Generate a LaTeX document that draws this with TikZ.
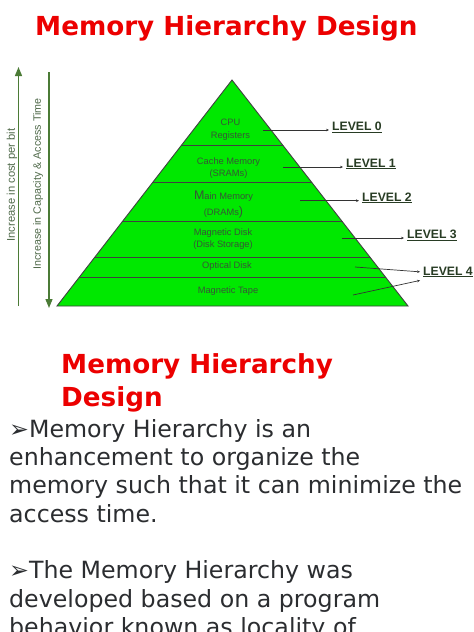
\documentclass[tikz,border=0pt]{standalone}
\usepackage{fontspec}
\setmainfont{DejaVu Sans}
\newfontfamily\arialf{Liberation Sans}
\usetikzlibrary{arrows.meta,calc}
\definecolor{pyrgreen}{RGB}{0,232,0}
\definecolor{arrgreen}{RGB}{75,123,54}
\definecolor{rottext}{RGB}{80,106,74}
\definecolor{pyrtext}{RGB}{55,85,55}
\definecolor{lvltext}{RGB}{40,60,36}
\definecolor{titlered}{RGB}{236,0,0}
\definecolor{bodytext}{RGB}{43,45,48}
\tikzset{
  pyrlabel/.style={font=\arialf\fontsize{9.3}{12.5}\selectfont, text=pyrtext, align=center, inner sep=0pt},
  lvllabel/.style={font=\arialf\bfseries\fontsize{12.2}{14}\selectfont, text=lvltext, anchor=west, inner sep=1pt},
  lvlarrow/.style={draw=black!80, line width=0.7pt, -{Stealth[length=3pt,width=2.6pt]}, shorten >=2pt},
  sidearrow/.style={draw=arrgreen, line width=1.3pt, -{Triangle[length=9pt,width=7pt]}},
  rotlabel/.style={font=\arialf\fontsize{11.2}{13}\selectfont, text=rottext, rotate=90, inner sep=0pt},
  heading/.style={font=\bfseries\fontsize{26.2}{30}\selectfont, text=titlered, anchor=base west, inner sep=0pt},
  bodyline/.style={font=\fontsize{23.7}{28}\selectfont, text=bodytext, anchor=base west, inner sep=0pt}
}
\begin{document}
\begin{tikzpicture}[x=1pt,y=-1pt]
\useasboundingbox (0,0) rectangle (474,632);
\clip (0,0) rectangle (474,632);
\fill[white] (0,0) rectangle (474,632);

% title
\node[heading] (title) at (35,35) {Memory Hierarchy Design};

% pyramid
\coordinate (apex) at (232,80);
\coordinate (bl) at (57,306);
\coordinate (br) at (408,306);
\fill[pyrgreen] (apex) -- (br) -- (bl) -- cycle;
\begin{scope}
  \clip (apex) -- (br) -- (bl) -- cycle;
  \foreach \yy in {145,182.5,221,257,277}
    \draw[black!75, line width=0.8pt] (40,\yy) -- (430,\yy);
\end{scope}
\draw[black!75, line width=0.9pt] (apex) -- (br) -- (bl) -- cycle;

\node[pyrlabel] (cpu) at (230.5,129.5) {CPU\\Registers};
\node[pyrlabel] (cache) at (228.5,168) {Cache Memory\\(SRAMs)};
\node[pyrlabel, font=\arialf\fontsize{9.3}{16}\selectfont] (main) at (223.5,204) {{\fontsize{12.5}{16}\selectfont M}ain Memory\\(DRAMs{\fontsize{12.5}{16}\selectfont )}};
\node[pyrlabel] (mdisk) at (223,239) {Magnetic Disk\\(Disk Storage)};
\node[pyrlabel] (optical) at (227,266) {Optical Disk};
\node[pyrlabel] (tape) at (228,291) {Magnetic Tape};

% level labels
\node[lvllabel] (lvl0) at (331,127) {\underline{LEVEL 0}};
\node[lvllabel] (lvl1) at (345,164) {\underline{LEVEL 1}};
\node[lvllabel] (lvl2) at (361,198) {\underline{LEVEL 2}};
\node[lvllabel] (lvl3) at (406,235) {\underline{LEVEL 3}};
\node[lvllabel] (lvl4) at (422,272) {\underline{LEVEL 4}};

\coordinate (s0) at (263,130);
\coordinate (s1) at (283,167);
\coordinate (s2) at (300,200.7);
\coordinate (s3) at (342,238);
\coordinate (s4a) at (355,267);
\coordinate (s4b) at (353,295);
\coordinate (e0) at (lvl0.west |- s0);
\coordinate (e1) at (lvl1.west |- s1);
\coordinate (e2) at (lvl2.west |- s2);
\coordinate (e3) at (lvl3.west |- s3);
\coordinate (e4a) at ($(lvl4.west)+(0,0)$);
\coordinate (e4b) at ($(lvl4.west)+(0,8)$);
\draw[lvlarrow] (s0) -- (e0);
\draw[lvlarrow] (s1) -- (e1);
\draw[lvlarrow] (s2) -- (e2);
\draw[lvlarrow] (s3) -- (e3);
\draw[lvlarrow] (s4a) -- (e4a);
\draw[lvlarrow] (s4b) -- (e4b);

% side arrows
\coordinate (c1bot) at (18.5,306);
\coordinate (c1top) at (18.5,67);
\coordinate (c2top) at (49,72);
\coordinate (c2bot) at (49,308);
\draw[sidearrow] (c1bot) -- (c1top);
\draw[sidearrow] (c2top) -- (c2bot);
\node[rotlabel] (costlbl) at (12,185) {Increase in cost per bit};
\node[rotlabel, font=\arialf\fontsize{10.7}{13}\selectfont] (caplbl) at (38,184) {Increase in Capacity \& Access Time};

% second heading
\node[heading] (h2a) at (61,373) {Memory Hierarchy};
\node[heading] (h2b) at (61,406) {Design};

% body text
\node[bodyline] (b1) at (9,437) {➢Memory Hierarchy is an};
\node[bodyline] (b2) at (9,465) {enhancement to organize the};
\node[bodyline] (b3) at (9,493) {memory such that it can minimize the};
\node[bodyline] (b4) at (9,522) {access time.};
\node[bodyline] (b5) at (9,578) {➢The Memory Hierarchy was};
\node[bodyline] (b6) at (9,607) {developed based on a program};
\node[bodyline] (b7) at (9,635) {behavior known as locality of};
\end{tikzpicture}
\end{document}
